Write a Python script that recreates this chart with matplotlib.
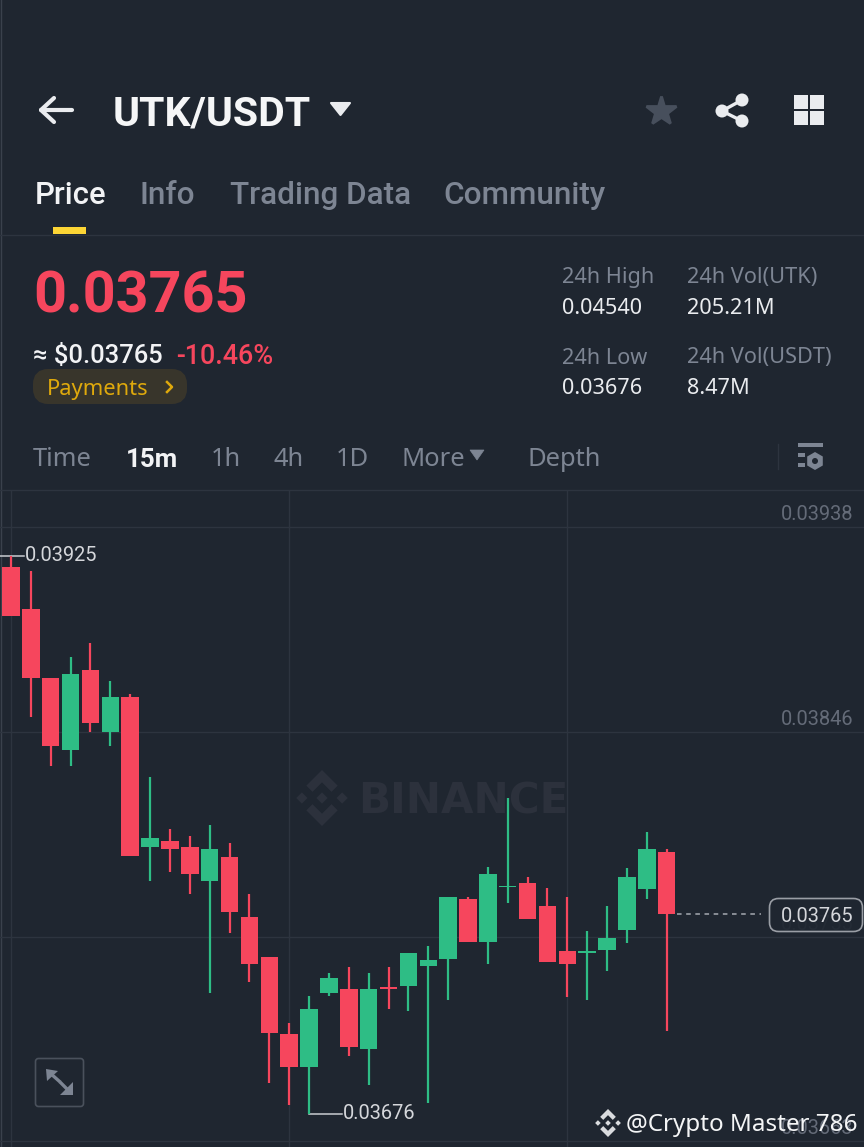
import numpy as np
import matplotlib
matplotlib.use("Agg")
import matplotlib.pyplot as plt
from matplotlib.patches import FancyBboxPatch, Polygon, Rectangle, Circle, RegularPolygon

# candle prices, in units of 0.00001
opens = [3920.2, 3901.1, 3870.1, 3837.9, 3873.8, 3845.9, 3861.8, 3794.2, 3797.2, 3794.2,
         3779.3, 3790.0, 3763.0, 3744.9, 3710.6, 3695.6, 3728.7, 3730.7, 3703.6, 3731.7,
         3731.9, 3741.0, 3744.0, 3771.0, 3751.9, 3776.3, 3778.1, 3767.9, 3747.8, 3747.0,
         3748.0, 3757.1, 3775.4, 3792.1]
closes = [3898.2, 3870.1, 3839.7, 3871.9, 3849.9, 3861.8, 3790.3, 3798.3, 3793.4, 3782.3,
          3793.4, 3765.1, 3741.9, 3710.8, 3695.6, 3721.7, 3735.7, 3704.6, 3730.7, 3730.8,
          3746.8, 3743.7, 3772.1, 3751.9, 3782.1, 3777.0, 3762.1, 3742.9, 3741.9, 3747.7,
          3753.7, 3781.1, 3793.4, 3764.3]
highs = [3925.0, 3918.4, 3870.1, 3879.8, 3885.8, 3868.8, 3862.9, 3825.7, 3802.3, 3799.3,
         3804.3, 3796.3, 3773.2, 3744.9, 3715.5, 3727.5, 3738.0, 3740.7, 3737.7, 3740.7,
         3746.8, 3750.0, 3772.1, 3772.1, 3785.3, 3816.2, 3781.1, 3776.1, 3772.1, 3756.8,
         3767.9, 3785.1, 3801.3, 3793.4]
lows = [3898.2, 3852.9, 3830.7, 3830.7, 3845.9, 3839.7, 3790.3, 3779.3, 3783.3, 3773.3,
        3729.0, 3755.9, 3733.9, 3688.3, 3678.6, 3674.6, 3727.6, 3700.6, 3687.6, 3721.7,
        3720.9, 3679.5, 3725.7, 3751.9, 3741.9, 3769.1, 3762.1, 3742.9, 3726.9, 3725.7,
        3738.9, 3751.2, 3771.2, 3711.8]
grid_prices = [3937.9, 3846.0, 3754.2, 3662.3]
grid_labels = ["0.03938", "0.03846", "0.03755", "0.03663"]
last_price = 3764.3
tabs = ["Info", "Trading Data", "Community"]
tab_x = [139, 230, 443]
intervals = ["Time", "1h", "4h", "1D", "More", "Depth"]
interval_x = [33, 211, 273, 336, 401, 528]

BG = "#1f2630"
RED = "#f6465d"
GREEN = "#2ebd85"
GRID = "#2d343f"
MUTED = "#7d8593"
WHITE = "#eaecef"
FONT = "Noto Sans"
NUM = "Roboto"

W, H = 864, 1147
fig = plt.figure(figsize=(W / 100, H / 100), dpi=100, facecolor=BG)


def px_axes(z):
    a = fig.add_axes([0, 0, 1, 1], zorder=z)
    a.set_xlim(0, W)
    a.set_ylim(H, 0)
    a.axis("off")
    return a


def label(a, x, y, s, size, color=WHITE, weight="normal", ha="left", family=FONT, **kw):
    return a.text(x, y, s, fontsize=size * 0.72, color=color, fontweight=weight, ha=ha,
                  va="center", family=family, **kw)


def logo(a, cx, cy, r, color, z=1):
    top = [(0, -1), (0.56, -0.44), (0.34, -0.22), (0, -0.56), (-0.34, -0.22), (-0.56, -0.44)]
    for sign in (1, -1):
        a.add_patch(Polygon([(cx + px * r, cy + sign * py * r) for px, py in top], fc=color, ec="none", zorder=z))
    for dx in (-0.72, 0, 0.72):
        d = 0.2
        a.add_patch(Polygon([(cx + (dx - d) * r, cy), (cx + dx * r, cy - d * r),
                             (cx + (dx + d) * r, cy), (cx + dx * r, cy + d * r)], fc=color, ec="none", zorder=z))


back = px_axes(0)

# page edge and separators
back.plot([0.5, 0.5], [0, H], color="#3a414c", lw=1)
back.plot([0, W], [234.5, 234.5], color=GRID, lw=1)
back.plot([0, W], [489.5, 489.5], color=GRID, lw=1)

# header
back.plot([41, 72], [110, 110], color=WHITE, lw=3, solid_capstyle="round")
back.plot([54, 41, 54], [98, 110, 122], color=WHITE, lw=3, solid_capstyle="round", solid_joinstyle="round")
label(back, 113, 115, "UTK/USDT", 41, "#f5f6f7", "bold", family=NUM)
back.add_patch(Polygon([(331, 103), (350, 103), (340.5, 115)], fc=WHITE, ec=WHITE, lw=1.5, joinstyle="round"))
back.plot(660.5, 111, marker="*", ms=22, color="#474f5c", mec="#474f5c", mew=2, mfc="#474f5c")
for p in ((722, 111), (742, 100), (742, 121)):
    back.add_patch(Circle(p, 6.5, fc=WHITE, ec="none"))
back.plot([742, 722, 742], [100, 111, 121], color=WHITE, lw=2.4)
for x0, y0, w, h in ((794, 95, 14, 14), (810, 95, 14, 14), (794, 111, 14, 14), (810, 111, 14, 14)):
    back.add_patch(Rectangle((x0, y0), w, h, fc=WHITE, ec="none"))

# tabs
label(back, 35, 196, "Price", 31, "#f2f3f5", "medium", family=NUM)
for x, s in zip(tab_x, tabs):
    label(back, x, 196, s, 31.5, MUTED, "medium", family=NUM)
back.add_patch(Rectangle((53, 227), 33, 7, fc="#fcd535", ec="none"))

# price block
label(back, 33, 297, "0.03765", 57.5, RED, "bold", family=NUM)
label(back, 33, 356, "≈ $0.03765", 25.5, "#f2f3f5", "medium", family=NUM)
label(back, 176, 356, "-10.46%", 27, RED, "medium", family=NUM)
back.add_patch(FancyBboxPatch((39, 375), 142, 23, boxstyle="round,pad=0,rounding_size=9", mutation_aspect=1,
                              fc="#38352b", ec="#38352b", lw=12 * 0.72))
label(back, 47, 390, "Payments", 22, "#dfa90c")
back.plot([167, 172, 167], [382, 387, 392], color="#dfa90c", lw=1.8)

# 24h stats
label(back, 562, 278, "24h High", 21.7, MUTED)
label(back, 562, 309, "0.04540", 21.7, WHITE)
label(back, 562, 358, "24h Low", 21.7, MUTED)
label(back, 562, 389, "0.03676", 21.7, WHITE)
label(back, 687, 277, "24h Vol(UTK)", 21.7, MUTED)
label(back, 687, 308, "205.21M", 21.7, WHITE)
label(back, 687, 357, "24h Vol(USDT)", 21.7, MUTED)
label(back, 687, 388, "8.47M", 21.7, WHITE)

# interval bar
label(back, 126, 460, "15m", 26, "#f2f3f5", "bold", family=NUM)
for x, s in zip(interval_x, intervals):
    label(back, x, 460, s, 25.5, MUTED)
back.add_patch(Polygon([(470, 450), (484, 450), (477, 460)], fc=MUTED, ec=MUTED, lw=0.5))
back.plot([777.5, 777.5], [444, 469], color=GRID, lw=1)
back.add_patch(Rectangle((798, 443), 25, 4, fc=MUTED, ec="none"))
back.add_patch(Rectangle((798, 453), 7, 4, fc=MUTED, ec="none"))
back.add_patch(Rectangle((798, 463), 7, 4, fc=MUTED, ec="none"))
back.add_patch(RegularPolygon((815, 461), 6, radius=9, fc=MUTED, ec="none"))
back.add_patch(Circle((815, 461), 3, fc=BG, ec="none"))

# watermark
logo(back, 322, 798, 28, "#2c313c")
back.text(358, 801, "BINANCE", fontsize=42 * 0.72, color="#2c313c", fontweight="bold", va="center", family="DejaVu Sans")

# chart, x in candle index and y in price
y_top, y_px = 3938, 0.4488
ax = fig.add_axes([0, 0, 1, 1 - 490 / H], zorder=1)
ax.patch.set_alpha(0)
ax.set_xlim(-11 / 19.87, (W - 11) / 19.87)
ax.set_ylim(y_top - (H - 527) * y_px, y_top + 37 * y_px)
for s in ax.spines.values():
    s.set_visible(False)
ax.set_yticks(grid_prices)
ax.set_xticks([0, 14, 28])
ax.tick_params(length=0, labelleft=False, labelbottom=False)
ax.grid(True, color=GRID, lw=1)
ax.set_axisbelow(True)

x = np.arange(len(opens))
colors = [RED if c < o else GREEN for o, c in zip(opens, closes)]
ax.vlines(x, lows, highs, colors=colors, lw=1.6, zorder=3)
bottoms = np.minimum(opens, closes)
heights = np.abs(np.array(opens) - np.array(closes))
ax.bar(x, heights, bottom=bottoms, width=0.88, color=colors, zorder=4)

for price, s in zip(grid_prices, grid_labels):
    ax.annotate(s, xy=(853 / W, price), xycoords=ax.get_yaxis_transform(), xytext=(0, 12.5 * 0.72),
                textcoords="offset points", ha="right", va="center", color="#646b78",
                fontsize=20 * 0.72, family=NUM)

# high and low callouts
ax.plot([-0.6, 0.65], [3925, 3925], color="#c9ccd1", lw=1.1)
ax.annotate("0.03925", xy=(0.65, 3925), xytext=(1, 0), textcoords="offset points", va="center",
            color="#d5d7db", fontsize=20 * 0.72, family=NUM)
ax.plot([15, 16.65], [3674.6, 3674.6], color="#c9ccd1", lw=1.1)
ax.annotate("0.03676", xy=(16.65, 3674.6), xytext=(1, 0), textcoords="offset points", va="center",
            color="#d5d7db", fontsize=20 * 0.72, family=NUM)

# last price line
ax.plot([33.5, 37.75], [last_price, last_price], color="#a5a9b0", lw=1.1, ls=(0, (3, 3)))

top = px_axes(2)
top.add_patch(FancyBboxPatch((769.5, 898.5), 93, 33, boxstyle="round,pad=0,rounding_size=9",
                             fc=BG, ec="#a5a9b0", lw=1.2, alpha=0.92))
label(top, 781, 916, "0.03765", 20, "#d5d7db", family=NUM)

# expand button
top.add_patch(FancyBboxPatch((35.5, 1058.5), 48, 48, boxstyle="round,pad=0,rounding_size=3", fc="none", ec="#4a515c", lw=1.2))
top.plot([50, 59], [1073, 1081], color="#7d8593", lw=2.4)
top.plot([61, 70], [1083, 1092], color="#7d8593", lw=2.4)
top.add_patch(Polygon([(46, 1069), (58, 1071), (47, 1081)], fc="#7d8593", ec="none"))
top.add_patch(Polygon([(73, 1082), (73, 1095), (60, 1095)], fc="#7d8593", ec="none"))

# credit
logo(top, 608, 1123, 14, "#d9dbde", z=3)
label(top, 626, 1125, "@Crypto Master 786", 24.2, "#f4f5f6")

fig.savefig("out.png", dpi=100, facecolor=BG)
